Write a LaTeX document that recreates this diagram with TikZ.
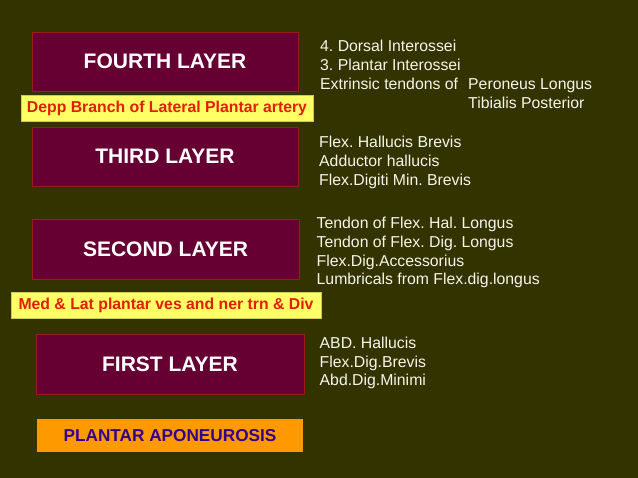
\documentclass[tikz,border=0pt]{standalone}
\usepackage{fontspec}
\setmainfont{Liberation Sans}
\definecolor{bg}{RGB}{51,51,0}
\definecolor{layerfill}{RGB}{102,0,51}
\definecolor{layerdraw}{RGB}{160,25,25}
\definecolor{notefill}{RGB}{255,255,102}
\definecolor{notetext}{RGB}{225,30,0}
\definecolor{apofill}{RGB}{255,153,0}
\definecolor{apotext}{RGB}{51,0,140}
\definecolor{itemtext}{RGB}{245,245,235}
\begin{document}
\frenchspacing
\begin{tikzpicture}[x=1pt,y=-1pt,
  layer/.style={draw=layerdraw, line width=0.8pt, fill=layerfill, text=white, inner sep=0pt,
    font=\fontsize{21}{25}\selectfont\bfseries},
  note/.style={draw=notefill!80!black, line width=0.4pt, fill=notefill, text=notetext, inner sep=0pt,
    minimum height=26pt, font=\fontsize{15.8}{19}\selectfont\bfseries},
  apo/.style={fill=apofill, text=apotext, inner sep=0pt,
    font=\fontsize{17.2}{20}\selectfont\bfseries},
  item/.style={anchor=base west, inner sep=0pt, text=itemtext, font=\fontsize{15.8}{19}\selectfont\frenchspacing}
]
\fill[bg] (0,0) rectangle (638,478);
\useasboundingbox (0,0) rectangle (638,478);

% layer boxes
\node[layer, minimum width=266pt, minimum height=59pt] (fourth) at (165,61.5) {FOURTH LAYER};
\node[layer, minimum width=266pt, minimum height=59pt] (third) at (165,156.5) {THIRD LAYER};
\node[layer, minimum width=267pt, minimum height=60pt] (second) at (165.5,249) {SECOND LAYER};
\node[layer, minimum width=268pt, minimum height=60pt] (first) at (170,364) {FIRST LAYER};

% notes
\node[note, minimum width=292pt] (deep) at (167,108) {Depp Branch of Lateral Plantar artery};
\node[note, minimum width=310pt] (medlat) at (166,305) {Med \& Lat plantar ves and ner trn \& Div};
\node[apo, minimum width=266pt, minimum height=33pt] (apo) at (170,435.5) {PLANTAR APONEUROSIS};

% fourth layer contents
\node[item] (f1) at (320,52) {4. Dorsal Interossei};
\node[item] (f2) at (320,70.7) {3. Plantar Interossei};
\node[item] (f3) at (320,89.4) {Extrinsic tendons of};
\node[item] (f4) at (468,89.4) {Peroneus Longus};
\node[item] (f5) at (468,108.1) {Tibialis Posterior};

% third layer contents
\node[item] (t1) at (319,148) {Flex. Hallucis Brevis};
\node[item] (t2) at (319,166.6) {Adductor hallucis};
\node[item] (t3) at (319,185.2) {Flex.Digiti Min. Brevis};

% second layer contents
\node[item] (s1) at (316.5,228.5) {Tendon of Flex. Hal. Longus};
\node[item] (s2) at (316.5,247.3) {Tendon of Flex. Dig. Longus};
\node[item] (s3) at (316.5,266.1) {Flex.Dig.Accessorius};
\node[item] (s4) at (316.5,284.9) {Lumbricals from Flex.dig.longus};

% first layer contents
\node[item] (a1) at (319.5,348.5) {ABD. Hallucis};
\node[item] (a2) at (319.5,367.2) {Flex.Dig.Brevis};
\node[item] (a3) at (319.5,385.9) {Abd.Dig.Minimi};
\end{tikzpicture}
\end{document}
